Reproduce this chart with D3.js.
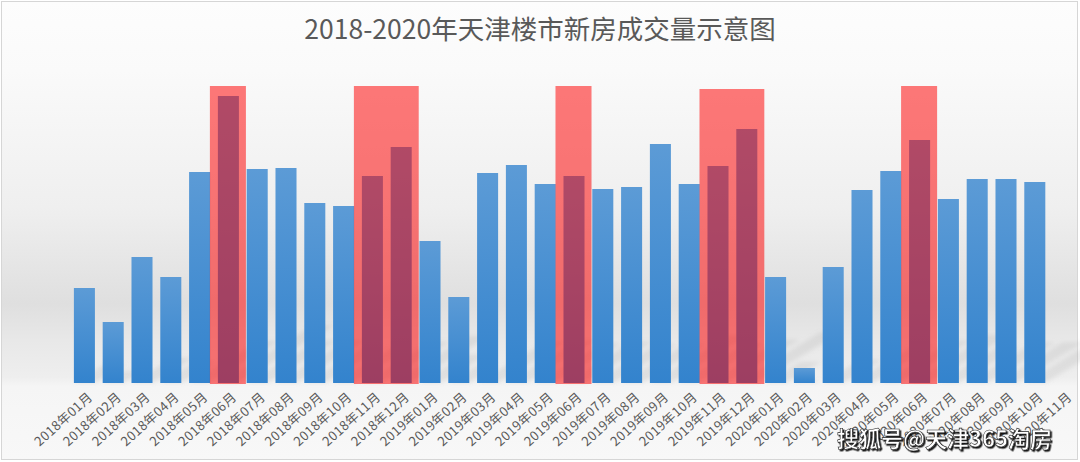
<!DOCTYPE html>
<html>
<head>
<meta charset="utf-8">
<script src="https://cdn.jsdelivr.net/npm/d3@7"></script>
<style>
  html, body { margin: 0; padding: 0; background: #ffffff; }
  svg { display: block; }
</style>
</head>
<body>
<svg id="chart" width="1080" height="462"></svg>
<script>
// ---- data ----
const title = "2018-2020年天津楼市新房成交量示意图";
const watermark = "搜狐号@天津365淘房";
const categories = [
  "2018年01月","2018年02月","2018年03月","2018年04月","2018年05月","2018年06月",
  "2018年07月","2018年08月","2018年09月","2018年10月","2018年11月","2018年12月",
  "2019年01月","2019年02月","2019年03月","2019年04月","2019年05月","2019年06月",
  "2019年07月","2019年08月","2019年09月","2019年10月","2019年11月","2019年12月",
  "2020年01月","2020年02月","2020年03月","2020年04月","2020年05月","2020年06月",
  "2020年07月","2020年08月","2020年09月","2020年10月","2020年11月"
];
// relative volume (no axis shown)
const values = [
  95, 61, 126, 106, 211, 287, 214, 215, 180, 177, 207, 236,
  142, 86, 210, 218, 199, 207, 194, 196, 239, 199, 217, 254,
  106, 15, 116, 193, 212, 243, 184, 204, 204, 201
];
// highlighted periods: first month, last month, top of box (same units)
const highlightStart = ["2018年06月", "2018年11月", "2019年06月", "2019年11月", "2020年06月"];
const highlightEnd   = ["2018年06月", "2018年12月", "2019年06月", "2019年12月", "2020年06月"];
const highlightTop   = [297, 297, 297, 294, 297];

// ---- layout ----
const W = 1080, H = 462;
const svg = d3.select("#chart");
const base = 383;

const x = d3.scaleBand().domain(categories).range([70, 1078]).paddingInner(0.27).paddingOuter(0.135);
const y = d3.scaleLinear().domain([0, 300]).range([base, base - 300]);

const defs = svg.append("defs");
const bg = defs.append("linearGradient").attr("id", "bg").attr("x1", 0).attr("y1", 0).attr("x2", 0).attr("y2", 1);
[[0, "#fdfdfd"], [0.15, "#fafafa"], [0.45, "#efefef"], [0.66, "#dfdfdf"], [0.74, "#e8e8e8"],
 [0.82, "#eeeeee"], [0.84, "#f5f5f5"], [1, "#f8f8f8"]].forEach(s =>
  bg.append("stop").attr("offset", s[0]).attr("stop-color", s[1]));

const barGrad = defs.append("linearGradient").attr("id", "barGrad").attr("x1", 0).attr("y1", 0).attr("x2", 0).attr("y2", 1);
barGrad.append("stop").attr("offset", 0).attr("stop-color", "#5c9bd6");
barGrad.append("stop").attr("offset", 1).attr("stop-color", "#3383cd");

defs.append("filter").attr("id", "blur").append("feGaussianBlur").attr("stdDeviation", 2);
const ws = defs.append("filter").attr("id", "wm").attr("x", "-5%").attr("y", "-20%").attr("width", "110%").attr("height", "150%");
ws.append("feDropShadow").attr("dx", 1.5).attr("dy", 1.5).attr("stdDeviation", 0.6).attr("flood-color", "#000").attr("flood-opacity", 0.9);

// background
svg.append("rect").attr("x", 0).attr("y", 0).attr("width", W).attr("height", H).attr("fill", "#ffffff");
svg.append("rect").attr("x", 1.5).attr("y", 1.5).attr("width", W - 4).attr("height", H - 4)
  .attr("fill", "url(#bg)").attr("stroke", "#d6d6d6").attr("stroke-width", 1);

// title
svg.append("text").attr("x", 540).attr("y", 39).attr("text-anchor", "middle")
  .attr("font-family", "'Noto Sans CJK SC', 'Noto Sans', sans-serif").attr("font-size", 26.5)
  .attr("fill", "#595959").text(title);

const data = values.map((v, i) => ({ c: categories[i], v }));

// floor reflections
svg.append("g").attr("filter", "url(#blur)").selectAll("path").data(data).join("path")
  .attr("d", d => {
    const x0 = x(d.c), x1 = x0 + x.bandwidth();
    const h = base - y(d.v);
    const dx = h * 0.33, dy = h * 0.2;
    return `M${x0},${base} L${x1},${base} L${x1 + dx},${base - dy} L${x0 + dx},${base - dy} Z`;
  })
  .attr("fill", "#9a9a9a").attr("opacity", 0.18);

// bars
svg.append("g").selectAll("rect").data(data).join("rect")
  .attr("x", d => x(d.c)).attr("y", d => y(d.v))
  .attr("width", x.bandwidth()).attr("height", d => base - y(d.v))
  .attr("fill", "url(#barGrad)");

// highlight boxes
const hl = highlightStart.map((s, i) => ({ s, e: highlightEnd[i], t: highlightTop[i] }));
svg.append("g").selectAll("rect").data(hl).join("rect")
  .attr("x", d => x(d.s) - 8)
  .attr("y", d => y(d.t))
  .attr("width", d => x(d.e) + x.bandwidth() - x(d.s) + 15)
  .attr("height", d => base + 1 - y(d.t))
  .attr("fill", "#ff0000").attr("fill-opacity", 0.52);

// x axis labels (rotated 45°)
svg.append("g").selectAll("text").data(categories).join("text")
  .attr("transform", c => `translate(${x(c) + x.bandwidth() / 2 + 6},${base + 12}) rotate(-42)`)
  .attr("text-anchor", "end")
  .attr("dy", "0.35em")
  .attr("font-family", "'Noto Sans CJK SC', 'Noto Sans', sans-serif")
  .attr("font-size", 13).attr("letter-spacing", 0.4).attr("fill", "#595959")
  .text(c => c);

// watermark
svg.append("text").attr("x", 1052).attr("y", 447).attr("text-anchor", "end")
  .attr("font-family", "'Noto Sans CJK SC', sans-serif").attr("font-size", 22).attr("font-weight", "bold")
  .attr("fill", "#ffffff").attr("stroke", "#222").attr("stroke-width", 0.6)
  .attr("filter", "url(#wm)").text(watermark);
</script>
</body>
</html>
